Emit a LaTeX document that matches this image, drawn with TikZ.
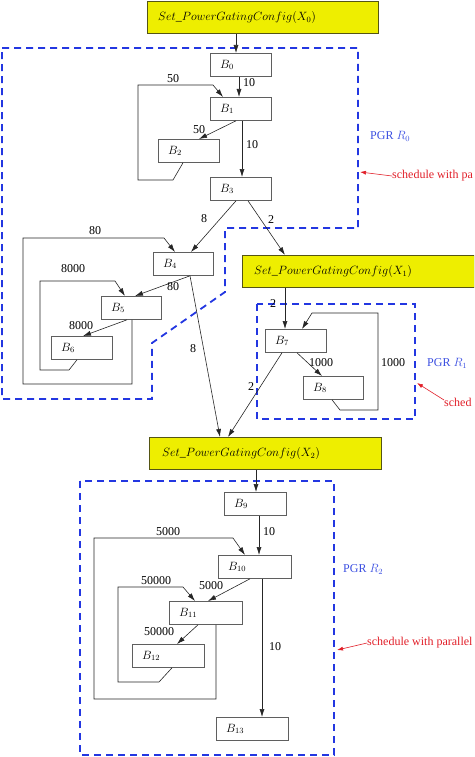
\documentclass[tikz,border=0pt]{standalone}
\usepackage{fontspec}
\setmainfont{Liberation Serif}
\usetikzlibrary{arrows.meta,calc}
\definecolor{rgnblue}{RGB}{35,55,225}
\definecolor{lblblue}{RGB}{60,80,225}
\definecolor{schred}{RGB}{225,30,40}
\definecolor{cfgfill}{RGB}{238,238,0}
\definecolor{cfgdraw}{RGB}{85,85,20}
\definecolor{boxdraw}{RGB}{95,95,95}
\begin{document}
\begin{tikzpicture}[x=1pt,y=-1pt,font=\fontsize{12}{14}\selectfont,
  blk/.style={draw=boxdraw,line width=0.8pt,rectangle,anchor=north west,inner sep=0pt,minimum height=23pt},
  cfg/.style={draw=cfgdraw,fill=cfgfill,line width=1pt,rectangle,anchor=north west,inner sep=0pt,minimum height=32pt},
  txt/.style={anchor=west,inner sep=0pt},
  num/.style={inner sep=0pt},
  edge/.style={draw=black!85,line width=0.6pt,-{Latex[length=8pt,width=5pt]}},
  rgn/.style={draw=rgnblue,line width=1.8pt,dash pattern=on 7pt off 5pt},
  rgnlbl/.style={anchor=west,inner sep=0pt,text=lblblue},
  sch/.style={anchor=west,inner sep=0pt,text=schred},
  scharr/.style={draw=schred,line width=0.6pt,-{Latex[length=6pt,width=4pt]}}
]
\useasboundingbox (0,0) rectangle (474,757);
\clip (0,0) rectangle (474,757);

% ---- config boxes
\node[cfg,minimum width=231pt] (x0) at (147,1) {};
\node[txt] (x0t) at ([xshift=11pt]x0.west) {$Set\_PowerGatingConfig(X_0)$};
\node[cfg,minimum width=232pt] (x1) at (242,255) {};
\node[txt] (x1t) at ([xshift=12pt]x1.west) {$Set\_PowerGatingConfig(X_1)$};
\node[cfg,minimum width=232pt] (x2) at (149,437) {};
\node[txt] (x2t) at ([xshift=13pt]x2.west) {$Set\_PowerGatingConfig(X_2)$};

% ---- basic blocks
\node[blk,minimum width=61pt] (b0) at (210,53) {};
\node[txt] (b0t) at ([xshift=10pt]b0.west) {$B_0$};
\node[blk,minimum width=61pt] (b1) at (210,97) {};
\node[txt] (b1t) at ([xshift=10pt]b1.west) {$B_1$};
\node[blk,minimum width=61pt] (b2) at (158,139) {};
\node[txt] (b2t) at ([xshift=10pt]b2.west) {$B_2$};
\node[blk,minimum width=61pt] (b3) at (210,177) {};
\node[txt] (b3t) at ([xshift=10pt]b3.west) {$B_3$};
\node[blk,minimum width=60pt] (b4) at (153,252) {};
\node[txt] (b4t) at ([xshift=10pt]b4.west) {$B_4$};
\node[blk,minimum width=60pt] (b5) at (101,296) {};
\node[txt] (b5t) at ([xshift=10pt]b5.west) {$B_5$};
\node[blk,minimum width=61pt] (b6) at (51,336) {};
\node[txt] (b6t) at ([xshift=10pt]b6.west) {$B_6$};
\node[blk,minimum width=61pt] (b7) at (265,329) {};
\node[txt] (b7t) at ([xshift=10pt]b7.west) {$B_7$};
\node[blk,minimum width=60pt] (b8) at (303,376) {};
\node[txt] (b8t) at ([xshift=10pt]b8.west) {$B_8$};
\node[blk,minimum width=62pt] (b9) at (224,492) {};
\node[txt] (b9t) at ([xshift=10pt]b9.west) {$B_9$};
\node[blk,minimum width=73pt] (b10) at (218,555) {};
\node[txt] (b10t) at ([xshift=10pt]b10.west) {$B_{10}$};
\node[blk,minimum width=73pt] (b11) at (169,601) {};
\node[txt] (b11t) at ([xshift=10pt]b11.west) {$B_{11}$};
\node[blk,minimum width=72pt] (b12) at (132,644) {};
\node[txt] (b12t) at ([xshift=10pt]b12.west) {$B_{12}$};
\node[blk,minimum width=72pt] (b13) at (216,717) {};
\node[txt] (b13t) at ([xshift=10pt]b13.west) {$B_{13}$};

% ---- power-gating regions
\draw[rgn] (2,48) -- (358,48) -- (358,228) -- (225,228) -- (225,292) -- (152,343) -- (152,399) -- (2,399) -- cycle;
\draw[rgn] (257,304) rectangle (415,419);
\draw[rgn] (80,481) rectangle (334,755);

% ---- edges
\draw[edge] ([xshift=89pt]x0.south west) -- ([xshift=26pt]b0.north west);
\draw[edge] ([xshift=29pt]b0.south west) -- ([xshift=29pt]b1.north west);
\draw[edge] ([xshift=26pt]b1.south west) -- ([xshift=41pt]b2.north west);
\draw[edge] ([xshift=32pt]b1.south west) -- ([xshift=32pt]b3.north west);
\draw[edge] ([xshift=25pt]b2.south west) -- (173,180) -- (138,180) -- (138,85) -- (213,85) -- ([xshift=13pt]b1.north west);
\draw[edge] ([xshift=26pt]b3.south west) -- ([xshift=38pt]b4.north west);
\draw[edge] ([xshift=38pt]b3.south west) -- ([xshift=43pt]x1.north west);
\draw[edge] ([xshift=31pt]b5.south west) -- (132,384) -- (23,384) -- (23,238) -- (164,238) -- ([xshift=22pt]b4.north west);
\draw[edge] ([xshift=37pt]b4.south west) -- ([xshift=34pt]b5.north west);
\draw[edge] ([xshift=26pt]b6.south west) -- (69,370) -- (40,370) -- (40,281) -- (115,281) -- ([xshift=24pt]b5.north west);
\draw[edge] ([xshift=26pt]b5.south west) -- ([xshift=32pt]b6.north west);
\draw[edge] ([xshift=37pt]b4.south west) -- ([xshift=71pt]x2.north west);
\draw[edge] ([xshift=43pt]x1.south west) -- ([xshift=20pt]b7.north west);
\draw[edge] ([xshift=32pt]b7.south west) -- ([xshift=19pt]b8.north west);
\draw[edge] ([xshift=29pt]b8.south west) -- (340,410) -- (378,410) -- (378,313) -- (312,313) -- ([xshift=37pt]b7.north west);
\draw[edge] ([xshift=17pt]b7.south west) -- ([xshift=79pt]x2.north west);
\draw[edge] ([xshift=107pt]x2.south west) -- ([xshift=32pt]b9.north west);
\draw[edge] ([xshift=35pt]b9.south west) -- ([xshift=41pt]b10.north west);
\draw[edge] ([xshift=32pt]b10.south west) -- ([xshift=39pt]b11.north west);
\draw[edge] ([xshift=29pt]b11.south west) -- ([xshift=45pt]b12.north west);
\draw[edge] ([xshift=44pt]b10.south west) -- ([xshift=46pt]b13.north west);
\draw[edge] ([xshift=47pt]b11.south west) -- (216,699) -- (94,699) -- (94,538) -- (233,538) -- ([xshift=27pt]b10.north west);
\draw[edge] ([xshift=40pt]b12.south west) -- (159,682) -- (118,682) -- (118,587) -- (183,587) -- ([xshift=26pt]b11.north west);

% ---- edge weights
\node[num] (w1) at (249,83) {10};
\node[num] (w2) at (199,130) {50};
\node[num] (w3) at (252,145) {10};
\node[num] (w4) at (173,79) {50};
\node[num] (w5) at (204,219) {8};
\node[num] (w6) at (271,220) {2};
\node[num] (w7) at (95,231) {80};
\node[num] (w8) at (173,287) {80};
\node[num] (w9) at (73,269) {8000};
\node[num] (w10) at (81,326) {8000};
\node[num] (w11) at (193,349) {8};
\node[num] (w12) at (273,304) {2};
\node[num] (w13) at (321,363) {1000};
\node[num] (w14) at (393,363) {1000};
\node[num] (w15) at (251,387) {2};
\node[num] (w16) at (269,532) {10};
\node[num] (w17) at (168,532) {5000};
\node[num] (w18) at (156,581) {50000};
\node[num] (w19) at (211,586) {5000};
\node[num] (w20) at (159,632) {50000};
\node[num] (w21) at (275,647) {10};

% ---- region labels
\node[rgnlbl] (r0) at (370,136) {PGR $R_0$};
\node[rgnlbl] (r1) at (427,363) {PGR $R_1$};
\node[rgnlbl] (r2) at (343,569) {PGR $R_2$};

% ---- schedule annotations (cut at the picture's edge, as in the reference)
\coordinate (p0) at (360,172);
\coordinate (p1) at (417,383);
\coordinate (p2) at (337,650);
\node[sch] (s0) at (392,176) {schedule with pa};
\node[sch] (s1) at (444,402) {sched};
\node[sch] (s2) at (367,643) {schedule with parallel};
\draw[scharr] (s0.west) -- (p0);
\draw[scharr] ([yshift=2pt]s1.west) -- (p1);
\draw[scharr] (s2.west) -- (p2);
\end{tikzpicture}
\end{document}
